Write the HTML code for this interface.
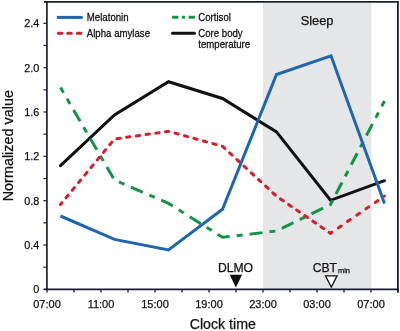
<!DOCTYPE html>
<html><head><meta charset="utf-8"><style>
html,body{margin:0;padding:0;background:#fff;}
body{width:400px;height:331px;overflow:hidden;}
svg{display:block;will-change:transform;}
text{font-family:"Liberation Sans",sans-serif;fill:#111;stroke:#111;stroke-width:0.25px;}
.tk{font-size:10.8px;}
.ttl{font-size:14px;}
.slp{font-size:12.85px;}
.lg{font-size:9.65px;}
.mk{font-size:12.2px;}
.sub{font-size:7.4px;}
</style></head><body>
<svg width="400" height="331" viewBox="0 0 400 331">
<rect x="263" y="2.9" width="108.4" height="286.4" fill="#e5e6e8"/>
<path d="M44,1.9 H397.9 V292.6" fill="none" stroke="#1c1f2e" stroke-width="1.8"/>
<path d="M46.9,1.9 V289.35" fill="none" stroke="#1c1f2e" stroke-width="1.7"/>
<path d="M44.3,289.35 H398.8" fill="none" stroke="#1c1f2e" stroke-width="1.6"/>
<line x1="47.00" y1="289" x2="47.00" y2="292.4" stroke="#1c1f2e" stroke-width="1.3"/>
<line x1="74.00" y1="289" x2="74.00" y2="292.4" stroke="#1c1f2e" stroke-width="1.3"/>
<line x1="101.00" y1="289" x2="101.00" y2="292.4" stroke="#1c1f2e" stroke-width="1.3"/>
<line x1="128.00" y1="289" x2="128.00" y2="292.4" stroke="#1c1f2e" stroke-width="1.3"/>
<line x1="155.00" y1="289" x2="155.00" y2="292.4" stroke="#1c1f2e" stroke-width="1.3"/>
<line x1="182.00" y1="289" x2="182.00" y2="292.4" stroke="#1c1f2e" stroke-width="1.3"/>
<line x1="209.00" y1="289" x2="209.00" y2="292.4" stroke="#1c1f2e" stroke-width="1.3"/>
<line x1="236.00" y1="289" x2="236.00" y2="292.4" stroke="#1c1f2e" stroke-width="1.3"/>
<line x1="263.00" y1="289" x2="263.00" y2="292.4" stroke="#1c1f2e" stroke-width="1.3"/>
<line x1="290.00" y1="289" x2="290.00" y2="292.4" stroke="#1c1f2e" stroke-width="1.3"/>
<line x1="317.00" y1="289" x2="317.00" y2="292.4" stroke="#1c1f2e" stroke-width="1.3"/>
<line x1="344.00" y1="289" x2="344.00" y2="292.4" stroke="#1c1f2e" stroke-width="1.3"/>
<line x1="371.00" y1="289" x2="371.00" y2="292.4" stroke="#1c1f2e" stroke-width="1.3"/>
<line x1="398.00" y1="289" x2="398.00" y2="292.4" stroke="#1c1f2e" stroke-width="1.3"/>
<line x1="43.4" y1="289.35" x2="47" y2="289.35" stroke="#1c1f2e" stroke-width="1.2"/>
<line x1="43.4" y1="267.18" x2="47" y2="267.18" stroke="#1c1f2e" stroke-width="1.2"/>
<line x1="43.4" y1="245.01" x2="47" y2="245.01" stroke="#1c1f2e" stroke-width="1.2"/>
<line x1="43.4" y1="222.84" x2="47" y2="222.84" stroke="#1c1f2e" stroke-width="1.2"/>
<line x1="43.4" y1="200.67" x2="47" y2="200.67" stroke="#1c1f2e" stroke-width="1.2"/>
<line x1="43.4" y1="178.50" x2="47" y2="178.50" stroke="#1c1f2e" stroke-width="1.2"/>
<line x1="43.4" y1="156.33" x2="47" y2="156.33" stroke="#1c1f2e" stroke-width="1.2"/>
<line x1="43.4" y1="134.16" x2="47" y2="134.16" stroke="#1c1f2e" stroke-width="1.2"/>
<line x1="43.4" y1="111.99" x2="47" y2="111.99" stroke="#1c1f2e" stroke-width="1.2"/>
<line x1="43.4" y1="89.82" x2="47" y2="89.82" stroke="#1c1f2e" stroke-width="1.2"/>
<line x1="43.4" y1="67.65" x2="47" y2="67.65" stroke="#1c1f2e" stroke-width="1.2"/>
<line x1="43.4" y1="45.48" x2="47" y2="45.48" stroke="#1c1f2e" stroke-width="1.2"/>
<line x1="43.4" y1="23.31" x2="47" y2="23.31" stroke="#1c1f2e" stroke-width="1.2"/>
<text x="39.3" y="293.25" text-anchor="end" class="tk">0</text>
<text x="39.3" y="248.91" text-anchor="end" class="tk">0.4</text>
<text x="39.3" y="204.57" text-anchor="end" class="tk">0.8</text>
<text x="39.3" y="160.23" text-anchor="end" class="tk">1.2</text>
<text x="39.3" y="115.89" text-anchor="end" class="tk">1.6</text>
<text x="39.3" y="71.55" text-anchor="end" class="tk">2.0</text>
<text x="39.3" y="27.21" text-anchor="end" class="tk">2.4</text>
<text x="47.00" y="308.1" text-anchor="middle" class="tk" style="font-size:11px">07:00</text>
<text x="101.00" y="308.1" text-anchor="middle" class="tk" style="font-size:11px">11:00</text>
<text x="155.00" y="308.1" text-anchor="middle" class="tk" style="font-size:11px">15:00</text>
<text x="209.00" y="308.1" text-anchor="middle" class="tk" style="font-size:11px">19:00</text>
<text x="263.00" y="308.1" text-anchor="middle" class="tk" style="font-size:11px">23:00</text>
<text x="317.00" y="308.1" text-anchor="middle" class="tk" style="font-size:11px">03:00</text>
<text x="371.00" y="308.1" text-anchor="middle" class="tk" style="font-size:11px">07:00</text>
<text x="222.8" y="328.7" text-anchor="middle" class="ttl" style="font-size:14.2px">Clock time</text>
<text transform="translate(12.8,145.7) rotate(-90)" x="0" y="0" text-anchor="middle" class="ttl" style="font-size:14.4px">Normalized value</text>
<text x="317.1" y="24.6" text-anchor="middle" class="slp">Sleep</text>
<polyline points="60.50,165.60 114.50,115.00 168.50,81.70 222.50,98.50 276.50,131.90 330.50,200.30 384.50,180.70" fill="none" stroke="#111111" stroke-width="3" stroke-linejoin="miter" stroke-linecap="round"/>
<polyline points="60.50,87.50 114.50,180.00 168.50,203.40 222.50,237.30 276.50,231.00 330.50,204.50 384.50,101.00" fill="none" stroke="#17924a" stroke-width="3" stroke-dasharray="13 7 6 7" stroke-dashoffset="7"/>
<polyline points="60.50,204.50 114.50,139.00 168.50,131.30 222.50,146.30 276.50,196.20 330.50,233.30" fill="none" stroke="#d41f2f" stroke-width="3" stroke-dasharray="3.4 6.42" stroke-dashoffset="1.15" stroke-linecap="round"/>
<polyline points="330.50,233.30 384.50,196.00" fill="none" stroke="#d41f2f" stroke-width="3" stroke-dasharray="3.4 7.80" stroke-dashoffset="1.70" stroke-linecap="round"/>
<polyline points="60.50,216.00 114.50,239.40 168.50,250.00 222.50,209.30 276.50,74.50 331.00,55.80 384.50,203.50" fill="none" stroke="#1f66ab" stroke-width="3" stroke-linejoin="miter"/>
<line x1="56.8" y1="17.4" x2="82.7" y2="17.4" stroke="#1f66ab" stroke-width="3"/>
<line x1="58.3" y1="33.3" x2="81.5" y2="33.3" stroke="#d41f2f" stroke-width="3" stroke-dasharray="3.5 6" stroke-linecap="round"/>
<line x1="172.1" y1="17.3" x2="195" y2="17.3" stroke="#17924a" stroke-width="3" stroke-dasharray="6.3 3.5 3.2 3.5"/>
<line x1="172.5" y1="33.2" x2="194.4" y2="33.2" stroke="#111111" stroke-width="3" stroke-linecap="round"/>
<text transform="translate(86.8,20.6) scale(1,1.07)" class="lg">Melatonin</text>
<text transform="translate(86.8,36.5) scale(1,1.07)" class="lg">Alpha amylase</text>
<text transform="translate(198.2,20.6) scale(1,1.07)" class="lg">Cortisol</text>
<text transform="translate(198.2,36.5) scale(1,1.07)" class="lg">Core body</text>
<text transform="translate(198.2,47.8) scale(1,1.07)" class="lg">temperature</text>
<text x="235.5" y="271.6" text-anchor="middle" class="mk">DLMO</text>
<path d="M229.7,274.8 L242.1,274.8 L235.9,287.4 Z" fill="#111"/>
<text x="312.7" y="271.6" class="mk">CBT<tspan class="sub" dx="0.9" dy="1.2">min</tspan></text>
<path d="M325.5,275.9 L337.1,275.9 L331.3,287.0 Z" fill="#fff" stroke="#111" stroke-width="1.3"/>
</svg>
</body></html>
